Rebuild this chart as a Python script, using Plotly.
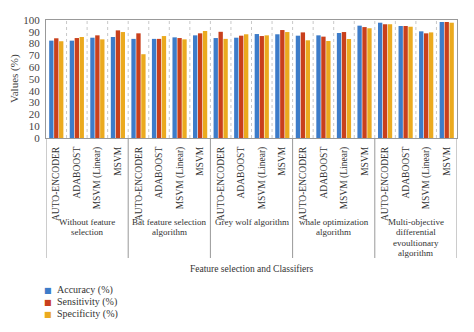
import plotly.graph_objects as go

groups = ["Without feature<br>selection", "Bat feature selection<br>algorithm", "Grey wolf algorithm",
          "whale optimization<br>algorithm", "Multi-objective<br>differential<br>evoultionary<br>algorithm"]
classifiers = ["AUTO-ENCODER", "ADABOOST", "MSVM (Linear)", "MSVM"]

accuracy = [82.5, 82.5, 85.0, 85.6,
            84.0, 84.0, 85.3, 87.0,
            84.7, 85.0, 88.1, 87.9,
            86.7, 87.0, 89.0, 95.2,
            97.7, 94.9, 90.4, 98.3]
sensitivity = [84.5, 84.7, 87.0, 91.2,
               88.7, 84.0, 84.7, 88.7,
               90.0, 86.7, 86.4, 91.5,
               89.5, 85.9, 89.8, 94.0,
               96.4, 94.9, 88.7, 98.3]
specificity = [82.0, 85.6, 83.6, 89.8,
               71.0, 86.4, 83.6, 90.7,
               84.0, 87.9, 87.0, 89.8,
               82.8, 82.2, 83.9, 93.0,
               96.4, 94.3, 89.5, 97.7]

series = [("Accuracy (%)", accuracy, "#3D7CC9"),
          ("Sensitivity (%)", sensitivity, "#C9401C"),
          ("Specificity (%)", specificity, "#EBAA1F")]

n_cat = len(groups) * len(classifiers)
xs = list(range(n_cat))
ticktext = [c for g in groups for c in classifiers]

FONT = "Liberation Serif"
fig = go.Figure()
for name, vals, col in series:
    fig.add_trace(go.Bar(x=xs, y=vals, name=name, showlegend=False,
                         marker=dict(color=col, line=dict(width=0))))

W, H = 474, 332
top, bottom_px, left, right_px = 20, 138, 46, 457
plot_h = bottom_px - top
plot_w = right_px - left

def py(p):
    """pixel row -> paper y"""
    return (bottom_px - p) / plot_h

def px(p):
    return (p - left) / plot_w

shapes = []
for i in range(n_cat - 1):
    shapes.append(dict(type="line", xref="x", yref="paper", x0=i + 0.5, x1=i + 0.5, y0=0, y1=1,
                       line=dict(color="#c8c8c8", width=1, dash="dot"), layer="below"))
for k in range(len(groups) + 1):
    xv = k * len(classifiers) - 0.5
    shapes.append(dict(type="line", xref="x", yref="paper", x0=xv, x1=xv, y0=0, y1=py(258),
                       line=dict(color="#999999", width=1)))

annotations = []
for k, g in enumerate(groups):
    cx = k * len(classifiers) + (len(classifiers) - 1) / 2
    for j, line in enumerate(g.split("<br>")):
        annotations.append(dict(x=cx, xref="x", y=py(222 + 10.5 * j), yref="paper",
                                text=line, showarrow=False, yanchor="middle", xanchor="center",
                                font=dict(family=FONT, size=9, color="#333")))
annotations.append(dict(x=0.5, xref="paper", y=py(269), yref="paper",
                        text="Feature selection and Classifiers", showarrow=False,
                        yanchor="middle", xanchor="center",
                        font=dict(family=FONT, size=9.5, color="#333")))
annotations.append(dict(x=px(14), xref="paper", y=0.5, yref="paper", text="Values (%)",
                        textangle=-90, showarrow=False, xanchor="center", yanchor="middle",
                        font=dict(family=FONT, size=11, color="#444")))
for j, (name, vals, col) in enumerate(series):
    yy = py(290 + 12 * j)
    annotations.append(dict(x=px(42), xref="paper", y=yy, yref="paper", text="■",
                            showarrow=False, xanchor="left", yanchor="middle",
                            font=dict(family="DejaVu Sans", size=8, color=col)))
    annotations.append(dict(x=px(55), xref="paper", y=yy, yref="paper", text=name,
                            showarrow=False, xanchor="left", yanchor="middle",
                            font=dict(family=FONT, size=10, color="#333")))

fig.update_layout(
    width=W, height=H,
    margin=dict(l=left, r=W - right_px, t=top, b=H - bottom_px, pad=0),
    paper_bgcolor="white", plot_bgcolor="white",
    barmode="group", bargap=0.28, bargroupgap=0.12,
    showlegend=False,
    shapes=shapes, annotations=annotations,
    xaxis=dict(range=[-0.5, n_cat - 0.5], tickvals=xs, ticktext=ticktext, tickangle=-90,
               automargin=False, showgrid=False, zeroline=False, showline=True,
               linecolor="#999999", linewidth=1, mirror=True, ticks="outside", ticklen=4,
               tickcolor="rgba(0,0,0,0)", tickfont=dict(family=FONT, size=9.5, color="#333")),
    yaxis=dict(range=[0, 100], dtick=10, automargin=False, showgrid=False, zeroline=False,
               showline=True, linecolor="#999999", linewidth=1, mirror=True,
               ticks="outside", ticklen=3, tickcolor="rgba(0,0,0,0)",
               tickfont=dict(family=FONT, size=11, color="#444")),
)
fig.write_html("out.html")
